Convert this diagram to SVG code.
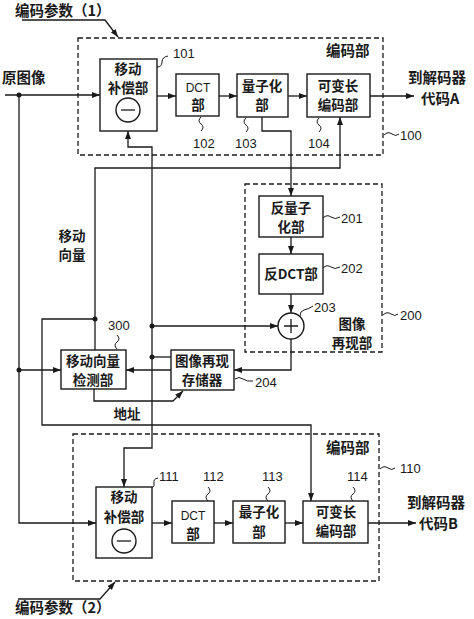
<svg xmlns="http://www.w3.org/2000/svg" width="474" height="619" viewBox="0 0 474 619">
<defs>
<marker id="ah" markerUnits="userSpaceOnUse" markerWidth="8" markerHeight="6" refX="8" refY="3" orient="auto">
<path d="M0,0 L8,3 L0,6 z" fill="#1a1a1a"/>
</marker>
<style>
.box{fill:#fff;stroke:#1a1a1a;stroke-width:1.4}
.dash{fill:none;stroke:#1a1a1a;stroke-width:1.3;stroke-dasharray:5,3}
.ln{fill:none;stroke:#1a1a1a;stroke-width:1.3}
.sq{fill:none;stroke:#1a1a1a;stroke-width:1}
.cn{font-family:"Noto Sans CJK SC","Noto Sans",sans-serif;font-size:14.5px;font-weight:bold;fill:#1a1a1a}
.cb{font-family:"Noto Sans CJK SC","Noto Sans",sans-serif;font-size:13.5px;font-weight:bold;fill:#1a1a1a;text-anchor:middle}
.num{font-family:"Liberation Sans",Arial,sans-serif;font-size:13px;fill:#1a1a1a}
.lat{font-family:"Liberation Sans",Arial,sans-serif;font-size:12px;fill:#1a1a1a;text-anchor:middle}
.dot{fill:#1a1a1a}
</style>
</defs>
<rect width="474" height="619" fill="#fff"/>

<!-- dashed groups -->
<g id="unit100">
<rect class="dash" x="78" y="38" width="305" height="117"/>
<text class="cn" x="326" y="56">编码部</text>
<text class="num" x="400" y="140">100</text>
<path class="sq" d="M384,135 q4,-4 8,-1 q4,3 7,0"/>
</g>
<g id="unit200">
<rect class="dash" x="245" y="184" width="137" height="168"/>
<text class="cb" x="352" y="329">图像</text>
<text class="cb" x="352" y="348">再现部</text>
<text class="num" x="400" y="320">200</text>
<path class="sq" d="M383,315 q4,-4 8,-1 q4,3 7,0"/>
</g>
<g id="unit110">
<rect class="dash" x="73" y="434" width="306" height="147"/>
<text class="cn" x="326" y="453">编码部</text>
<text class="num" x="400" y="473">110</text>
<path class="sq" d="M380,469 q4,-4 8,-1 q4,3 7,0"/>
</g>

<!-- connectors -->
<g id="connectors">
<path class="ln" d="M5,95 H100" marker-end="url(#ah)"/>
<path class="ln" d="M19,95 V523 H96" marker-end="url(#ah)"/>
<path class="ln" d="M19,370 H61" marker-end="url(#ah)"/>
<path class="ln" d="M157,96 H176" marker-end="url(#ah)"/>
<path class="ln" d="M219,96 H237" marker-end="url(#ah)"/>
<path class="ln" d="M288,96 H307" marker-end="url(#ah)"/>
<path class="ln" d="M370,96 H414" marker-end="url(#ah)"/>
<path class="ln" d="M262,117 V131 H291 V196" marker-end="url(#ah)"/>
<path class="ln" d="M95,350 V168 H340 V117" marker-end="url(#ah)"/>
<path class="ln" d="M95,319 H42 V425 H311 V501" marker-end="url(#ah)"/>
<path class="ln" d="M152,357 V147 H128 V131" marker-end="url(#ah)"/>
<path class="ln" d="M152,357 V448 H124 V487" marker-end="url(#ah)"/>
<path class="ln" d="M152,357 H171"/>
<path class="ln" d="M152,326 H278" marker-end="url(#ah)"/>
<path class="ln" d="M291,237 V254" marker-end="url(#ah)"/>
<path class="ln" d="M291,294 V313" marker-end="url(#ah)"/>
<path class="ln" d="M291,339 V370 H234" marker-end="url(#ah)"/>
<path class="ln" d="M171,370 H126" marker-end="url(#ah)"/>
<path class="ln" d="M94,389 V401 H173 L183,391" marker-end="url(#ah)"/>
<path class="ln" d="M152,523 H172" marker-end="url(#ah)"/>
<path class="ln" d="M214,523 H233" marker-end="url(#ah)"/>
<path class="ln" d="M285,523 H303" marker-end="url(#ah)"/>
<path class="ln" d="M368,523 H416" marker-end="url(#ah)"/>
<path class="ln" d="M22,20 H105 L118,37" marker-end="url(#ah)"/>
<path class="ln" d="M18,599 H100 L115,582" marker-end="url(#ah)"/>
<circle class="dot" cx="19" cy="95" r="2.5"/>
<circle class="dot" cx="19" cy="370" r="2.5"/>
<circle class="dot" cx="95" cy="319" r="2.5"/>
<circle class="dot" cx="152" cy="326" r="2.5"/>
<circle class="dot" cx="152" cy="357" r="2.5"/>
</g>

<!-- free labels -->
<g id="labels">
<text class="cn" x="15" y="16">编码参数（1）</text>
<text class="cn" x="15" y="613">编码参数（2）</text>
<text class="cn" x="2" y="83">原图像</text>
<text class="cn" x="408" y="83">到解码器</text>
<text class="cn" x="421" y="104">代码A</text>
<text class="cn" x="407" y="508">到解码器</text>
<text class="cn" x="419" y="529">代码B</text>
<text class="cb" x="72" y="241">移动</text>
<text class="cb" x="72" y="260">向量</text>
<text class="cb" x="127" y="419">地址</text>
</g>

<!-- top encoder nodes -->
<g id="n101">
<rect class="box" x="100" y="59" width="57" height="72"/>
<text class="cb" x="128" y="74">移动</text>
<text class="cb" x="128" y="93">补偿部</text>
<circle class="box" cx="128" cy="110" r="12"/>
<path class="ln" d="M121,110 H135" stroke-width="1.8"/>
<text class="num" x="173" y="58">101</text>
<path class="sq" d="M157,67 q5,0 5,-5 q0,-5 6,-6"/>
</g>
<g id="n102">
<rect class="box" x="176" y="74" width="43" height="42"/>
<text class="lat" x="198" y="92">DCT</text>
<text class="cb" x="198" y="110">部</text>
<text class="num" x="193" y="148">102</text>
<path class="sq" d="M201,117 q-4,4 0,7 q4,3 0,7"/>
</g>
<g id="n103">
<rect class="box" x="237" y="74" width="51" height="43"/>
<text class="cb" x="262" y="91">量子化</text>
<text class="cb" x="262" y="110">部</text>
<text class="num" x="235" y="148">103</text>
<path class="sq" d="M246,118 q-4,4 0,7 q4,3 0,7"/>
</g>
<g id="n104">
<rect class="box" x="307" y="74" width="63" height="43"/>
<text class="cb" x="338" y="91">可变长</text>
<text class="cb" x="338" y="110">编码部</text>
<text class="num" x="308" y="148">104</text>
<path class="sq" d="M319,118 q-4,4 0,7 q4,3 0,7"/>
</g>

<!-- reconstruction nodes -->
<g id="n201">
<rect class="box" x="259" y="196" width="64" height="41"/>
<text class="cb" x="291" y="213">反量子</text>
<text class="cb" x="291" y="232">化部</text>
<text class="num" x="341" y="223">201</text>
<path class="sq" d="M323,218 q4,-4 8,-1 q4,3 9,0"/>
</g>
<g id="n202">
<rect class="box" x="259" y="254" width="64" height="40"/>
<text class="cb" x="291" y="279">反DCT部</text>
<text class="num" x="341" y="273">202</text>
<path class="sq" d="M323,268 q4,-4 8,-1 q4,3 9,0"/>
</g>
<g id="n203">
<circle class="box" cx="291" cy="326" r="13"/>
<path class="ln" d="M284,326 H298 M291,319 V333" stroke-width="1.6"/>
<text class="num" x="314" y="312">203</text>
<path class="sq" d="M300,316 q0,-5 4,-6 q5,-1 9,-4"/>
</g>
<g id="n204">
<rect class="box" x="171" y="350" width="63" height="40"/>
<text class="cb" x="202" y="366">图像再现</text>
<text class="cb" x="202" y="385">存储器</text>
<text class="num" x="255" y="387">204</text>
<path class="sq" d="M235,379 q4,-3 8,0 q4,3 10,2"/>
</g>
<g id="n300">
<rect class="box" x="61" y="350" width="65" height="39"/>
<text class="cb" x="93" y="366">移动向量</text>
<text class="cb" x="93" y="385">检测部</text>
<text class="num" x="108" y="330">300</text>
<path class="sq" d="M117,349 q-4,-4 0,-7 q4,-3 0,-7"/>
</g>

<!-- bottom encoder nodes -->
<g id="n111">
<rect class="box" x="96" y="487" width="56" height="71"/>
<text class="cb" x="124" y="502">移动</text>
<text class="cb" x="124" y="522">补偿部</text>
<circle class="box" cx="124" cy="541" r="12"/>
<path class="ln" d="M117,541 H131" stroke-width="1.8"/>
<text class="num" x="159" y="481">111</text>
<path class="sq" d="M152,488 q3,-2 2,-5 q-1,-4 4,-5"/>
</g>
<g id="n112">
<rect class="box" x="172" y="501" width="42" height="42"/>
<text class="lat" x="193" y="520">DCT</text>
<text class="cb" x="193" y="539">部</text>
<text class="num" x="203" y="481">112</text>
<path class="sq" d="M208,501 q-4,-4 0,-7 q4,-3 0,-7"/>
</g>
<g id="n113">
<rect class="box" x="233" y="501" width="52" height="42"/>
<text class="cb" x="259" y="517">最子化</text>
<text class="cb" x="259" y="537">部</text>
<text class="num" x="262" y="481">113</text>
<path class="sq" d="M268,501 q-4,-4 0,-7 q4,-3 0,-7"/>
</g>
<g id="n114">
<rect class="box" x="303" y="501" width="65" height="42"/>
<text class="cb" x="336" y="517">可变长</text>
<text class="cb" x="336" y="536">编码部</text>
<text class="num" x="347" y="481">114</text>
<path class="sq" d="M353,501 q-4,-4 0,-7 q4,-3 0,-7"/>
</g>
</svg>
